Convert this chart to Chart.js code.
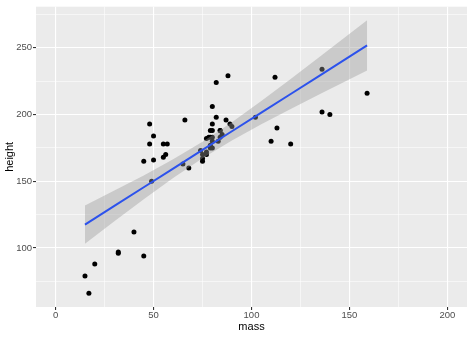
<!DOCTYPE html>
<html><head><meta charset="utf-8">
<script src="https://cdn.jsdelivr.net/npm/chart.js@4.4.1/dist/chart.umd.min.js"></script>
<style>html,body{margin:0;padding:0;background:#fff}#w{width:474px;height:338px;position:relative}</style>
</head><body><div id="w"><canvas id="c"></canvas></div>
<script>
// Observations (mass, height)
const mass = [77,75,32,136,49,120,75,32,84,77,84,112,80,74,77,110,17,75,78.2,140,113,79,79,83,20,68,89,90,45,66,82,40,80,55,15,45,65,84,82,87,50,80,85,80,56.2,50,80,79,55,102,88,48,57,159,136,79,80,48];
const height = [172,167,96,202,150,178,165,97,183,182,188,228,180,173,170,180,66,170,183,200,190,177,175,180,88,160,193,191,165,196,224,112,175,178,79,94,163,188,198,196,184,188,185,183,170,166,193,183,168,198,229,193,178,216,234,188,206,178];
// Fitted line and confidence band
const fitMass   = [15,30,45,60,75,90,105,120,135,159];
const fitHeight = [117.5,131.5,145.5,159.5,173.5,187.5,201.4,215.4,229.4,251.8];
const fitLower  = [103.2,120.0,136.5,152.5,167.3,180.6,192.7,204.2,215.4,233.0];
const fitUpper  = [131.8,143.0,154.4,166.5,179.6,194.3,210.2,226.7,243.5,270.6];
// Axes
const xMajor = [0,50,100,150,200];
const xMinor = [25,75,125,175];
const yMajor = [100,150,200,250];
const yMinor = [75,125,175,225,275];
const xLimits = [-10,210];
const yLimits = [55.77,280.82];

const pts = (xs, ys) => xs.map((x,i)=>({x:x, y:ys[i]}));
const FONT = '"Liberation Sans", Arial, sans-serif';

const panelBg = {
  id:'panelBg',
  beforeDraw(chart){
    const {ctx, chartArea:a} = chart;
    ctx.save(); ctx.fillStyle='#EBEBEB';
    ctx.fillRect(a.left, a.top, a.right-a.left, a.bottom-a.top);
    ctx.restore();
  }
};

function axis(major, minor, limits, title, isX){
  const all = major.concat(minor).sort((a,b)=>a-b);
  return {
    type:'linear', min:limits[0], max:limits[1],
    afterBuildTicks:(s)=>{ s.ticks = all.map(v=>({value:v})); },
    afterFit:(s)=>{ if(isX) s.height = 31; else s.width = 36; },
    border:{display:false},
    grid:{
      color:'#FFFFFF',
      lineWidth:(c)=> major.includes(c.tick.value) ? 1.1 : 0.55,
      tickColor:(c)=> major.includes(c.tick.value) ? '#333333' : 'rgba(0,0,0,0)',
      tickWidth:1.1,
      tickLength:3,
      drawTicks:true
    },
    ticks:{
      autoSkip:false, maxRotation:0, padding: isX ? 0 : 1,
      color:'#4D4D4D', font:{family:FONT, size:9.5},
      callback:(v)=> major.includes(v) ? String(v) : ''
    },
    title:{display:true, text:title, color:'#000000',
      font:{family:FONT, size:11},
      padding: isX ? {top:0,bottom:4.4} : {top:3.4,bottom:0}}
  };
}

new Chart(document.getElementById('c'), {
  type:'scatter',
  data:{datasets:[
    {label:'pts', data:pts(mass,height), pointRadius:2.5, pointBackgroundColor:'#000', pointBorderWidth:0, showLine:false, order:4},
    {label:'lo', data:pts(fitMass,fitLower), showLine:true, pointRadius:0, borderWidth:0, borderColor:'rgba(0,0,0,0)', fill:false, order:3},
    {label:'hi', data:pts(fitMass,fitUpper), showLine:true, pointRadius:0, borderWidth:0, borderColor:'rgba(0,0,0,0)', fill:'-1', backgroundColor:'rgba(153,153,153,0.4)', order:2},
    {label:'fit', data:pts(fitMass,fitHeight), showLine:true, pointRadius:0, borderWidth:2, borderColor:'#2C52EC', fill:false, order:1}
  ]},
  options:{
    responsive:true, maintainAspectRatio:false, animation:false,
    devicePixelRatio:1,
    layout:{padding:{left:0,right:7,top:5,bottom:0}},
    plugins:{legend:{display:false}, tooltip:{enabled:false}},
    scales:{
      x: axis(xMajor, xMinor, xLimits, 'mass', true),
      y: axis(yMajor, yMinor, yLimits, 'height', false)
    }
  },
  plugins:[panelBg]
});
</script>
</body></html>
